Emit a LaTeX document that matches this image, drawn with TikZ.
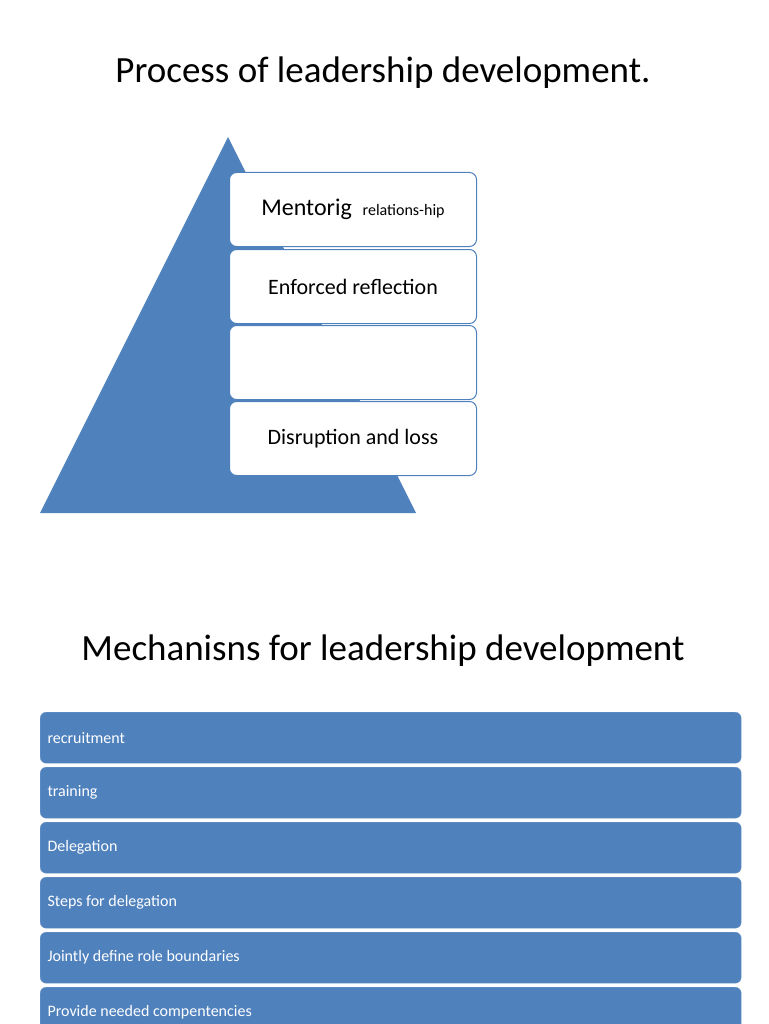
\documentclass[tikz,border=0pt]{standalone}
\usepackage{fontspec}
\setmainfont{Carlito}
\definecolor{bl}{RGB}{79,129,189}
\begin{document}
\begin{tikzpicture}[x=1pt,y=-1pt,
  lbox/.style={draw=bl,line width=1pt,fill=white,rounded corners=7pt,minimum width=247pt,minimum height=74pt,anchor=north west,align=center,font=\fontsize{22}{26}\selectfont},
  bar/.style={fill=bl,draw=bl!80!white,rounded corners=6pt,minimum width=701pt,minimum height=51pt,anchor=north west,inner sep=0pt},
  bartxt/.style={text=white,anchor=west,font=\fontsize{16}{19}\selectfont}]
\useasboundingbox (0,0) rectangle (768,1024);
\clip (0,0) rectangle (768,1024);
\node (t1) at (383,73) {\fontsize{37}{44}\selectfont Process of leadership development.};
\fill[bl] (228,137) -- (40,513) -- (416,513) -- cycle;
\node[lbox] (b1) at (229,172) {};
\node at (b1.center) {\fontsize{24}{28}\selectfont Mentorig\ \ \fontsize{16}{18}\selectfont relations-\\[-2pt]\fontsize{16}{18}\selectfont hip};
\node[lbox] (b2) at (229,249) {Enforced reflection};
\node[lbox] (b3) at (229,325) {};
\node[lbox] (b4) at (229,401) {Disruption and loss};
\node (t2) at (383,651) {\fontsize{37}{44}\selectfont Mechanisns for leadership development};
\foreach \y/\t [count=\i] in {712/recruitment,767/training,822/Delegation,877/Steps for delegation,932/Jointly define role boundaries,987/Provide needed compentencies}{
  \node[bar] (r\i) at (40,\y) {};
  \node[bartxt] (l\i) at ([xshift=4pt]r\i.west) {\t};
}
\end{tikzpicture}
\end{document}
